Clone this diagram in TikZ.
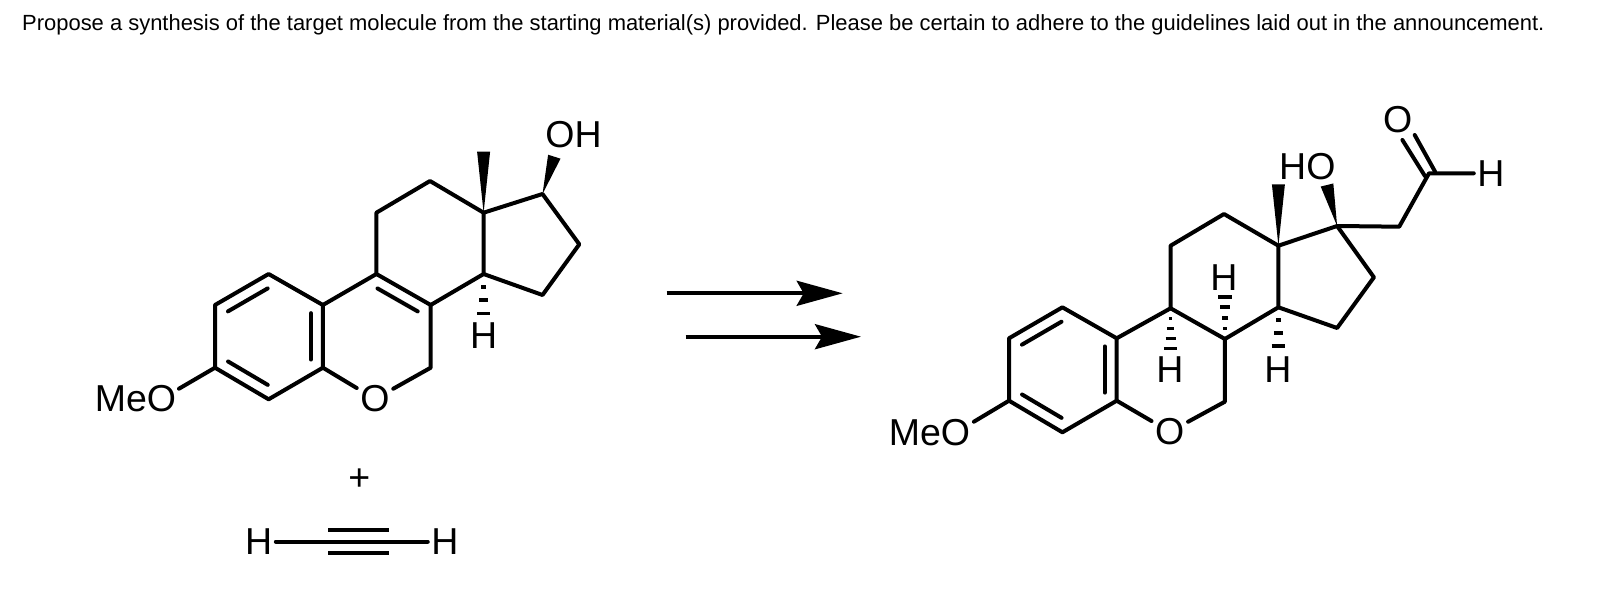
\documentclass[tikz,border=0pt]{standalone}
\usepackage{fontspec}
\setmainfont{Liberation Sans}
\usetikzlibrary{calc,arrows.meta}
\tikzset{
	bond/.style={line width=4pt,line cap=round,line join=round},
	atom/.style={font=\fontsize{37.5}{42}\selectfont,inner sep=3.5pt},
	rxnarrow/.style={line width=4pt,-{Stealth[length=46pt,width=25pt,inset=7pt]}}
}
\newcommand{\innerbond}[3]{\draw[bond] ($(#1)!.13!(#2)!12pt!#3:(#2)$) -- ($(#2)!.13!(#1)!12pt!-#3:(#1)$);}
\newcommand{\wedgebond}[3]{\fill (#1) -- ($(#2)!#3!90:(#1)$) -- ($(#2)!#3!-90:(#1)$) -- cycle;}
\newcommand{\hashbond}[4]{\foreach \i in {1,...,#3}{
	\pgfmathsetmacro{\hpos}{\i/#3}
	\pgfmathsetmacro{\hwid}{\hpos*#4}
	\draw[line width=3.6pt] ($(#1)!\hpos!(#2)!\hwid pt!90:(#1)$) -- ($(#1)!\hpos!(#2)!\hwid pt!-90:(#1)$);}}

\begin{document}
\begin{tikzpicture}[x=1pt,y=-1pt]
	\useasboundingbox (0,0) rectangle (1624,596);

	\node[font=\fontsize{21.95}{26}\selectfont,anchor=west,inner sep=0pt] (prompt) at (22,24.5) {Propose a synthesis of the target molecule from the starting material(s) provided. Please be certain to adhere to the guidelines laid out in the announcement.};

	% Starting material
	\coordinate (a1) at (215,367.7);
	\coordinate (a2) at (215,305);
	\coordinate (a3) at (268.6,274);
	\coordinate (a4) at (322.9,305);
	\coordinate (a5) at (322.9,367.7);
	\coordinate (a6) at (268.6,399.3);
	\coordinate (b1) at (376.4,274);
	\coordinate (b2) at (430.7,305);
	\coordinate (b3) at (430.7,367.7);
	\coordinate (c1) at (376.4,212.7);
	\coordinate (c2) at (430,181);
	\coordinate (c3) at (483.6,212.7);
	\coordinate (c4) at (483.6,274);
	\coordinate (d1) at (542.5,194);
	\coordinate (d2) at (579.3,244.3);
	\coordinate (d3) at (542.5,295);
	\coordinate (meoAend) at (179,388.7);
	\coordinate (meAtip) at (483.6,151.7);
	\coordinate (ohAtip) at (554.3,156.7);
	\coordinate (hAtip) at (483.6,313.3);
	\node[atom] (oA) at (375,399) {O};
	\node[atom] (meoA) at (135.5,399) {MeO};
	\node[atom] (ohA) at (573.6,135) {OH};
	\node[atom] (hA) at (483.6,336) {H};
	\draw[bond] (a1) -- (a2) -- (a3) -- (a4) -- (a5) -- (a6) -- cycle;
	\draw[bond] (a4) -- (b1) -- (b2) -- (b3) -- (oA) -- (a5);
	\draw[bond] (b1) -- (c1) -- (c2) -- (c3) -- (c4) -- (b2);
	\draw[bond] (c3) -- (d1) -- (d2) -- (d3) -- (c4);
	\draw[bond] (a1) -- (meoAend);
	\innerbond{a2}{a3}{-90}
	\innerbond{a1}{a6}{90}
	\innerbond{a4}{a5}{-90}
	\innerbond{b1}{b2}{-90}
	\wedgebond{c3}{meAtip}{6.5pt}
	\wedgebond{d1}{ohAtip}{6.5pt}
	\hashbond{c4}{hAtip}{3}{6.5}

	% Acetylene
	\node[atom] (hLeft) at (258.6,541.5) {H};
	\node[atom] (hRight) at (445,541.5) {H};
	\node[atom] (plus) at (359.3,480) {+};
	\coordinate (t1) at (328.2,530);
	\coordinate (t2) at (389.3,530);
	\coordinate (t3) at (328.2,552.7);
	\coordinate (t4) at (389.3,552.7);
	\draw[bond] (hLeft) -- (hRight);
	\draw[bond,line cap=butt] (t1) -- (t2);
	\draw[bond,line cap=butt] (t3) -- (t4);

	% Arrows
	\coordinate (arA) at (666.7,293.3);
	\coordinate (arB) at (842.7,293.3);
	\coordinate (arC) at (685.7,336.7);
	\coordinate (arD) at (861,336.7);
	\draw[rxnarrow] (arA) -- (arB);
	\draw[rxnarrow] (arC) -- (arD);

	% Product
	\coordinate (r1) at (1009,400.7);
	\coordinate (r2) at (1009,338.3);
	\coordinate (r3) at (1062.4,307.3);
	\coordinate (r4) at (1116.7,338.3);
	\coordinate (r5) at (1116.7,400.7);
	\coordinate (r6) at (1062.4,432.3);
	\coordinate (s1) at (1170.6,308.3);
	\coordinate (s2) at (1224.9,339);
	\coordinate (s3) at (1224.9,401.7);
	\coordinate (u1) at (1170.6,245.7);
	\coordinate (u2) at (1224,214);
	\coordinate (u3) at (1278.4,245.7);
	\coordinate (u4) at (1278.4,307.3);
	\coordinate (w1) at (1337.1,226);
	\coordinate (w2) at (1373.9,277.3);
	\coordinate (w3) at (1337.1,328);
	\coordinate (ch2) at (1399.2,226.7);
	\coordinate (cho) at (1429,173.3);
	\coordinate (meoBend) at (973.9,421.7);
	\coordinate (meBtip) at (1278.4,184.3);
	\coordinate (ohBtip) at (1327,185);
	\coordinate (hBtipA) at (1170.6,348.3);
	\coordinate (hBtipB) at (1224.9,296.7);
	\coordinate (hBtipC) at (1278.4,346);
	\coordinate (coA) at (1402.4,140);
	\coordinate (coB) at (1424.9,176);
	\coordinate (coC) at (1414.7,135);
	\coordinate (coD) at (1435.1,171.7);
	\node[atom] (oB) at (1169.8,431.7) {O};
	\node[atom] (meoB) at (929.5,432.3) {MeO};
	\node[atom] (ohB) at (1307.3,166.7) {HO};
	\node[atom] (oAld) at (1397.6,119.3) {O};
	\node[atom] (hAld) at (1491,173.3) {H};
	\node[atom] (hBa) at (1169.8,369.3) {H};
	\node[atom] (hBb) at (1224,277.7) {H};
	\node[atom] (hBc) at (1278,369.3) {H};
	\draw[bond] (r1) -- (r2) -- (r3) -- (r4) -- (r5) -- (r6) -- cycle;
	\draw[bond] (r4) -- (s1) -- (s2) -- (s3) -- (oB) -- (r5);
	\draw[bond] (s1) -- (u1) -- (u2) -- (u3) -- (u4) -- (s2);
	\draw[bond] (u3) -- (w1) -- (w2) -- (w3) -- (u4);
	\draw[bond] (w1) -- (ch2) -- (cho) -- (hAld);
	\draw[bond] (r1) -- (meoBend);
	\draw[bond] (coA) -- (coB);
	\draw[bond] (coC) -- (coD);
	\innerbond{r2}{r3}{-90}
	\innerbond{r1}{r6}{90}
	\innerbond{r4}{r5}{-90}
	\wedgebond{u3}{meBtip}{6.5pt}
	\wedgebond{w1}{ohBtip}{6.5pt}
	\hashbond{s1}{hBtipA}{4}{6.7}
	\hashbond{s2}{hBtipB}{4}{6.7}
	\hashbond{u4}{hBtipC}{3}{6.7}
\end{tikzpicture}
\end{document}
